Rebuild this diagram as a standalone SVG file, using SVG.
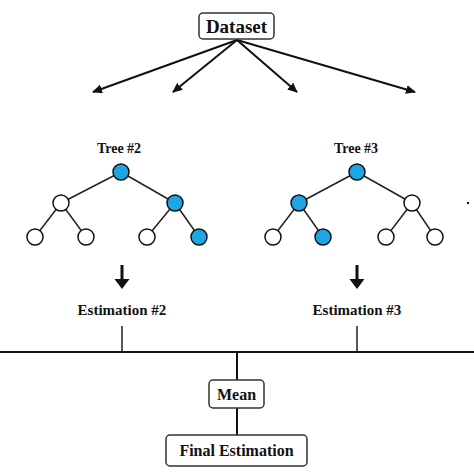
<svg xmlns="http://www.w3.org/2000/svg" width="474" height="474" viewBox="0 0 474 474">
<style>
text{font-family:"Liberation Serif","Times New Roman",serif;font-weight:bold;fill:#111;text-anchor:middle}
.box{fill:#fff;stroke:#333;stroke-width:1.5}
.edge{stroke:#222;stroke-width:1.5;fill:none}
.ln{stroke:#111;stroke-width:2;fill:none}
.w{fill:#fff;stroke:#111;stroke-width:1.5}
.b{fill:#1ea5e3;stroke:#111;stroke-width:1.5}
</style>
<defs>
<marker id="ah" markerWidth="10" markerHeight="9" refX="9" refY="4.5" orient="auto" markerUnits="userSpaceOnUse">
<path d="M0,0 L10,4.5 L0,9 Z" fill="#111"/>
</marker>
</defs>
<g id="connectors">
<line class="ln" x1="237" y1="40" x2="93" y2="92" marker-end="url(#ah)" stroke-width="1.8"/>
<line class="ln" x1="237" y1="40" x2="173" y2="92" marker-end="url(#ah)" stroke-width="1.8"/>
<line class="ln" x1="237" y1="40" x2="297" y2="92" marker-end="url(#ah)" stroke-width="1.8"/>
<line class="ln" x1="237" y1="40" x2="415" y2="92" marker-end="url(#ah)" stroke-width="1.8"/>
<path d="M120.5,265 h3 v14 h6 l-7.5,10 l-7.5,-10 h6 z" fill="#111"/>
<path d="M355.5,265 h3 v14 h6 l-7.5,10 l-7.5,-10 h6 z" fill="#111"/>
<line class="edge" x1="122" y1="326" x2="122" y2="352"/>
<line class="edge" x1="357" y1="326" x2="357" y2="352"/>
<line class="ln" x1="0" y1="352" x2="474" y2="352"/>
<line class="ln" x1="237" y1="352" x2="237" y2="380"/>
<line class="ln" x1="237" y1="408" x2="237" y2="435"/>
</g>
<g id="dataset">
<rect class="box" x="199" y="13" width="75" height="26" rx="4"/>
<text x="236.5" y="32.5" font-size="19">Dataset</text>
</g>
<g id="tree2">
<text x="119" y="153" font-size="14">Tree #2</text>
<g class="edge">
<line x1="121" y1="172" x2="61" y2="203"/>
<line x1="121" y1="172" x2="175" y2="203"/>
<line x1="61" y1="203" x2="35" y2="237"/>
<line x1="61" y1="203" x2="86" y2="237"/>
<line x1="175" y1="203" x2="147" y2="237"/>
<line x1="175" y1="203" x2="199" y2="237"/>
</g>
<circle class="b" cx="121" cy="172" r="8"/>
<circle class="w" cx="61" cy="203" r="8"/>
<circle class="b" cx="175" cy="203" r="8"/>
<circle class="w" cx="35" cy="237" r="8"/>
<circle class="w" cx="86" cy="237" r="8"/>
<circle class="w" cx="147" cy="237" r="8"/>
<circle class="b" cx="199" cy="237" r="8"/>
</g>
<g id="tree3">
<text x="356" y="153" font-size="14">Tree #3</text>
<g class="edge">
<line x1="357" y1="172" x2="299" y2="203"/>
<line x1="357" y1="172" x2="412" y2="203"/>
<line x1="299" y1="203" x2="273" y2="237"/>
<line x1="299" y1="203" x2="323" y2="237"/>
<line x1="412" y1="203" x2="386" y2="237"/>
<line x1="412" y1="203" x2="435" y2="237"/>
</g>
<circle class="b" cx="357" cy="172" r="8"/>
<circle class="b" cx="299" cy="203" r="8"/>
<circle class="w" cx="412" cy="203" r="8"/>
<circle class="w" cx="273" cy="237" r="8"/>
<circle class="b" cx="323" cy="237" r="8"/>
<circle class="w" cx="386" cy="237" r="8"/>
<circle class="w" cx="435" cy="237" r="8"/>
</g>
<circle cx="468" cy="203" r="1.2" fill="#111"/>
<g id="est2"><text x="122" y="315" font-size="15">Estimation #2</text></g>
<g id="est3"><text x="357" y="315" font-size="15">Estimation #3</text></g>
<g id="mean">
<rect class="box" x="209" y="380" width="55" height="28" rx="4"/>
<text x="236.5" y="399.5" font-size="16">Mean</text>
</g>
<g id="final">
<rect class="box" x="166" y="435" width="141" height="31" rx="4"/>
<text x="236.5" y="455.5" font-size="16">Final Estimation</text>
</g>
</svg>
